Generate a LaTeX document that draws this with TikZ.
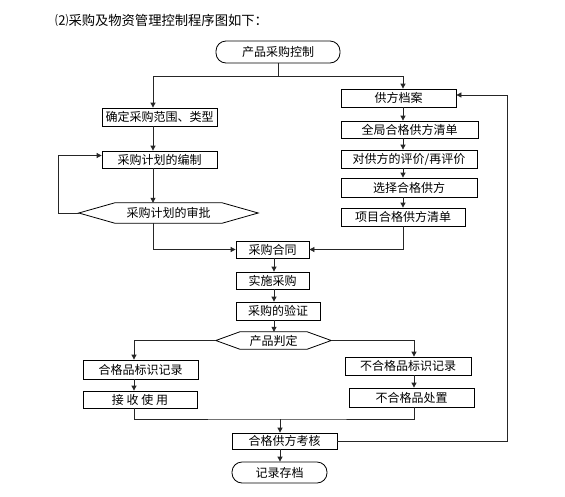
\documentclass[tikz,border=0pt]{standalone}
\usepackage{fontspec}
\setmainfont{Noto Sans CJK SC}
\usetikzlibrary{arrows.meta,calc}
\newcommand\hexshape[2]{\draw[boxline] ([xshift=#2]#1.north west) -- ([xshift=-#2]#1.north east) -- (#1.east) -- ([xshift=-#2]#1.south east) -- ([xshift=#2]#1.south west) -- (#1.west) -- cycle;}
\begin{document}
\begin{tikzpicture}[x=1pt,y=-1pt,
  boxline/.style={draw=black,line width=0.8pt},
  txt/.style={font=\fontsize{12}{12}\selectfont,inner sep=0pt,align=center},
  box/.style={txt,boxline,rectangle},
  term/.style={txt,boxline,rectangle,rounded corners=10pt},
  hexnode/.style={txt,rectangle},
  line/.style={draw=black!85,line width=0.8pt},
  arr/.style={line,-{Triangle[length=5pt,width=5pt]}}]
\fill[white] (0,0) rectangle (565,496);
\useasboundingbox (0,0) rectangle (565,496);
\node[anchor=west,font=\fontsize{13.3}{14}\selectfont,inner sep=0pt] (title) at (55,20) {⑵采购及物资管理控制程序图如下：};
% nodes
\node[term,minimum width=124pt,minimum height=22pt] (start) at (278,52) {产品采购控制};
\node[box,minimum width=115pt,minimum height=18pt] (fw) at (159.5,117) {确定采购范围、类型};
\node[box,minimum width=115pt,minimum height=17pt] (bz) at (159.5,159.5) {采购计划的编制};
\node[hexnode,minimum width=179pt,minimum height=20pt] (sp) at (168.5,213) {采购计划的审批};
\hexshape{sp}{36pt}
\node[box,minimum width=73pt,minimum height=17pt] (ht) at (272.5,249.5) {采购合同};
\node[box,minimum width=73pt,minimum height=17pt] (ss) at (272.5,280.5) {实施采购};
\node[box,minimum width=84pt,minimum height=18pt] (yz) at (278,311) {采购的验证};
\node[hexnode,minimum width=115pt,minimum height=17pt] (pd) at (273.5,340.5) {产品判定};
\hexshape{pd}{24pt}
\node[box,minimum width=115pt,minimum height=19pt] (hg) at (140.5,369.5) {合格品标识记录};
\node[box,minimum width=114pt,minimum height=17pt] (js) at (140,399.5) {接 收 使 用};
\node[box,minimum width=126pt,minimum height=18pt] (bhg) at (408,366) {不合格品标识记录};
\node[box,minimum width=125pt,minimum height=19pt] (bcz) at (411.5,397.5) {不合格品处置};
\node[box,minimum width=105pt,minimum height=16pt] (kh) at (284.5,441) {合格供方考核};
\node[term,minimum width=95pt,minimum height=21pt] (end) at (279.5,472.5) {记录存档};
\node[box,minimum width=115pt,minimum height=18pt] (da) at (398.5,98) {供方档案};
\node[box,minimum width=137pt,minimum height=17pt] (qj) at (409.5,129.5) {全局合格供方清单};
\node[box,minimum width=136pt,minimum height=18pt] (pj) at (409,159) {对供方的评价/再评价};
\node[box,minimum width=136pt,minimum height=19pt] (xz) at (409,187.5) {选择合格供方};
\node[box,minimum width=124pt,minimum height=18pt] (xm) at (403,217) {项目合格供方清单};
% helper coordinates
\coordinate (lx) at (153,0);
\coordinate (rx) at (403,0);
\coordinate (cx) at (274,0);
\coordinate (hx) at (134,0);
\coordinate (bx) at (414,0);
\coordinate (j1) at (278,76);
\coordinate (m) at (280,419);
% connectors
\draw[line] (start.south) -- (j1);
\draw[arr] (j1) -| (fw.north -| lx);
\draw[arr] (j1) -| (da.north -| rx);
\draw[arr] (fw.south -| lx) -- (bz.north -| lx);
\draw[arr] (bz.south -| lx) -- (sp.north -| lx);
\draw[arr] (sp.west) -- ++(-20,0) |- ([yshift=4pt]bz.west);
\draw[arr] (sp.south -| lx) |- (ht.west);
\draw[arr] (da.south -| rx) -- (qj.north -| rx);
\draw[arr] (qj.south -| rx) -- (pj.north -| rx);
\draw[arr] (pj.south -| rx) -- (xz.north -| rx);
\draw[arr] (xz.south -| rx) -- (xm.north -| rx);
\draw[arr] (xm.south -| rx) |- (ht.east);
\draw[arr] (ht.south -| cx) -- (ss.north -| cx);
\draw[arr] (ss.south -| cx) -- (yz.north -| cx);
\draw[arr] (yz.south -| cx) -- (pd.north -| cx);
\draw[arr] (pd.west) -| (hg.north -| hx);
\draw[arr] (hg.south -| hx) -- (js.north -| hx);
\draw[arr] (pd.east) -| (bhg.north -| bx);
\draw[arr] (bhg.south -| bx) -- (bcz.north -| bx);
\draw[line] (js.south -| hx) |- (m) -| (bcz.south -| bx);
\draw[arr] (m) -- (kh.north -| m);
\draw[arr] (kh.south -| m) -- (end.north -| m);
\draw[arr] (kh.east) -- ++(170,0) |- ([yshift=3pt]da.east);
\end{tikzpicture}
\end{document}
